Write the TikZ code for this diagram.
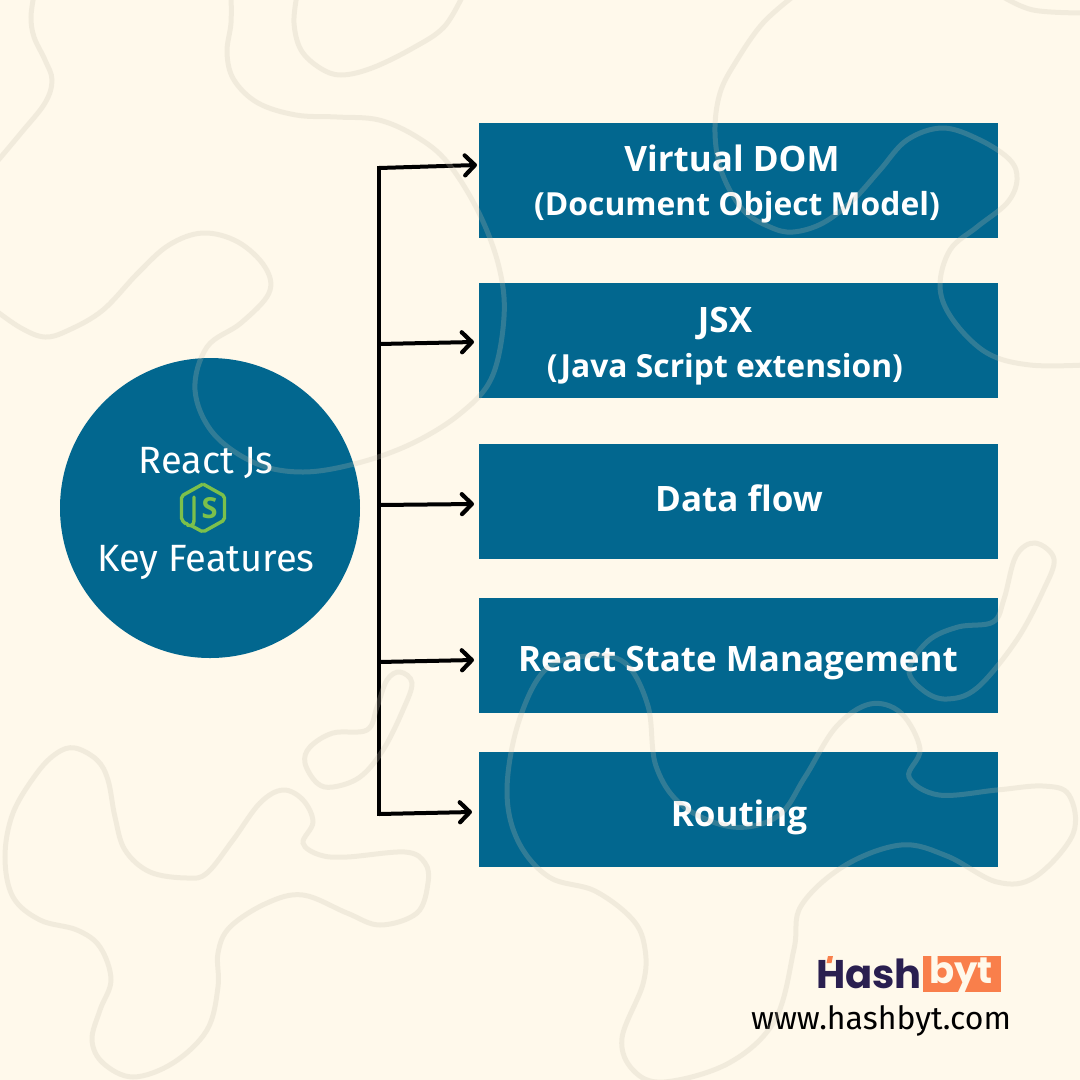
\documentclass[tikz,border=0pt]{standalone}
\usepackage{fontspec}
\setmainfont{Open Sans}
\newfontfamily\logofont{Poppins}
\newfontfamily\plainfont{Fira Sans}
\usetikzlibrary{arrows.meta}
\definecolor{bgcream}{HTML}{FFF9EB}
\definecolor{tealblue}{HTML}{02678F}
\definecolor{squig}{HTML}{C8C0B0}
\definecolor{jsgreen}{HTML}{7CC04B}
\definecolor{logodark}{HTML}{2A1F50}
\definecolor{logoorange}{HTML}{F97F4B}
\tikzset{
  x=1pt,y=-1pt,
  boxnode/.style={rectangle,fill=tealblue,minimum width=519pt,minimum height=115pt,inner sep=0pt},
  boxtext/.style={text=white,font=\bfseries\fontsize{35}{35}\selectfont,inner sep=0pt},
  subtext/.style={text=white,font=\bfseries\fontsize{31.8}{32}\selectfont,inner sep=0pt},
  circtext/.style={text=white,font=\plainfont\fontsize{38}{38}\selectfont,inner sep=0pt},
  branch/.style={draw=black,line width=4pt,-{Straight Barb[length=10pt,width=20pt,line width=4.2pt,round]}},
  trunk/.style={draw=black,line width=4.5pt,line cap=rect},
  squiggle/.style={draw=squig,line width=5pt,opacity=.24},
}
\begin{document}
\begin{tikzpicture}
\useasboundingbox (0,0) rectangle (1080,1080);
\fill[bgcream] (0,0) rectangle (1080,1080);

% main circle
\node[circle,fill=tealblue,minimum size=300pt,inner sep=0pt] (hub) at (210,508) {};
\node[circtext] (hubtop) at (206,463) {React Js};
\node[circtext] (hubbot) at (206,562) {Key Features};

% JS logo
\draw[jsgreen,line width=3.4pt,line join=round,rounded corners=2pt]
  (203,484) -- (224.5,496) -- (224.5,520) -- (203,532) -- (192,526);
\draw[jsgreen,line width=3.4pt,line join=round,rounded corners=2pt]
  (203,484) -- (181.5,496) -- (181.5,520) -- (186,524);
\draw[jsgreen,line width=3.4pt,line cap=round] (194,497) -- (194,520) .. controls (194,527) and (188,527) .. (186,523);
\node[text=jsgreen,inner sep=0pt,font=\bfseries\fontsize{29}{29}\selectfont] (jss) at (209.5,508) {S};

% boxes
\node[boxnode] (b1) at (738.5,180.5) {};
\node[boxnode] (b2) at (738.5,340.5) {};
\node[boxnode] (b3) at (738.5,501) {};
\node[boxnode] (b4) at (738.5,655.5) {};
\node[boxnode] (b5) at (738.5,809.5) {};

\node[boxtext] (t1a) at (732,158) {Virtual DOM};
\node[subtext] (t1b) at (737,207) {(Document Object Model)};
\node[boxtext] (t2a) at (725,323) {JSX};
\node[subtext] (t2b) at (725,369) {(Java Script extension)};
\node[boxtext] (t3) at (739,498) {Data flow};
\node[boxtext] (t4) at (738,663) {React State Management};
\node[boxtext] (t5) at (739,817) {Routing};

% connectors
\coordinate (j1) at (379,168);
\coordinate (j2) at (379,344);
\coordinate (j3) at (379,505);
\coordinate (j4) at (379,662);
\coordinate (j5) at (379,814);
\coordinate (a1) at (477,165);
\coordinate (a2) at (474,342);
\coordinate (a3) at (474,504);
\coordinate (a4) at (474,660);
\coordinate (a5) at (472,812);
\draw[trunk] (j1) -- (j5);
\draw[branch] (j1) -- (a1);
\draw[branch] (j2) -- (a2);
\draw[branch] (j3) -- (a3);
\draw[branch] (j4) -- (a4);
\draw[branch] (j5) -- (a5);

% logo
\node[fill=logoorange,minimum width=78pt,minimum height=36pt,inner sep=0pt] (byt) at (962,974) {};
\node[inner sep=0pt,text=bgcream,font=\logofont\bfseries\fontsize{37}{37}\selectfont] (bytt) at (961,975) {byt};
\node[inner sep=0pt,text=logodark,font=\logofont\bfseries\fontsize{40}{40}\selectfont] (hash) at (869,974) {Hash};
\fill[logoorange] (828,956) -- (833,956) -- (831.5,963) -- (826.5,963) -- cycle;
\node[inner sep=0pt,text=black,font=\plainfont\fontsize{32}{32}\selectfont] (www) at (881,1021) {www.hashbyt.com};

% background squiggles
\draw[squiggle] plot[smooth,tension=.6] coordinates {(34,-5)(31,17)(34,37)(45,60)(52,80)(45,103)(21,133)(-5,164)};
\draw[squiggle] plot[smooth,tension=.6] coordinates {(231,-5)(231,23)(227,53)(234,80)(258,103)(296,115)(337,117)(379,120)(417,137)(448,163)(479,213)(499,267)(504,317)(492,377)(461,413)(413,443)(358,463)(303,472)(255,463)(213,433)(195,390)(207,347)(241,323)(269,293)(265,267)(238,242)(203,233)(169,245)(138,273)(103,310)(69,330)(45,337)(21,328)(-5,310)};
\draw[squiggle] plot[smooth,tension=.6] coordinates {(297,-5)(294,23)(301,50)(320,68)(341,75)(372,68)(413,48)(444,27)(463,-5)};
\draw[squiggle] plot[smooth,tension=.6] coordinates {(795,-5)(763,23)(737,60)(720,93)(715,133)(722,173)(743,210)(770,227)(793,232)(823,223)(853,200)(880,170)(907,140)(943,128)(980,140)(1010,160)(1017,180)(1007,203)(977,227)(950,250)(940,287)(953,320)(987,353)(1030,365)(1085,365)};
\draw[squiggle] plot[smooth,tension=.6] coordinates {(1000,-5)(1033,10)(1085,13)};
\draw[squiggle] plot[smooth cycle,tension=.6] coordinates {(645,949)(643,984)(622,1038)(633,1070)(664,1082)(729,1063)(775,1020)(794,949)(801,906)(844,866)(901,845)(947,856)(997,882)(1035,877)(1073,834)(1069,795)(1043,786)(997,790)(939,795)(909,777)(920,749)(901,713)(870,704)(836,727)(805,777)(778,816)(733,827)(683,806)(656,766)(648,706)(625,663)(587,656)(545,670)(518,724)(507,791)(518,841)(549,877)(595,891)(633,920)};
\draw[squiggle] plot[smooth cycle,tension=.6] coordinates {(909,670)(924,691)(947,699)(977,688)(1016,641)(1043,591)(1054,559)(1035,543)(1016,556)(1004,599)(993,622)(958,627)(928,641)};
\draw[squiggle] plot[smooth cycle,tension=.6] coordinates {(412,683)(400,672)(387,680)(377,707)(367,730)(333,733)(310,747)(305,763)(317,783)(333,787)(360,777)(383,750)(403,710)};
\draw[squiggle] plot[smooth cycle,tension=.6] coordinates {(75,748)(97,760)(108,780)(115,817)(125,850)(150,872)(187,878)(207,873)(233,840)(260,803)(283,790)(303,800)(313,822)(303,843)(320,855)(347,857)(405,852)(425,863)(428,883)(417,913)(380,925)(347,913)(303,895)(267,903)(230,927)(218,953)(218,987)(207,1030)(173,1063)(133,1077)(103,1063)(92,1040)(100,1010)(111,980)(100,947)(77,930)(40,920)(13,897)(5,857)(13,813)(37,773)(57,753)};
\end{tikzpicture}
\end{document}
